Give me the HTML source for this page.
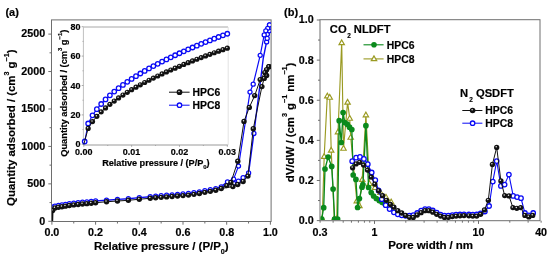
<!DOCTYPE html>
<html><head><meta charset="utf-8"><style>
html,body{margin:0;padding:0;background:#fff;width:550px;height:257px;overflow:hidden}
svg{display:block;filter:blur(0.3px)}
text{font-family:"Liberation Sans", Arial, sans-serif;font-weight:bold;fill:#000;stroke:#000;stroke-width:0.18px}
</style></head><body>
<svg width="550" height="257" viewBox="0 0 550 257">
<defs><clipPath id="clipA"><rect x="52" y="19.5" width="219" height="201.6"/></clipPath><clipPath id="clipB"><rect x="320.5" y="19.5" width="219.5" height="200.6"/></clipPath></defs>
<rect x="51.5" y="19.9" width="219.6" height="201.6" fill="none" stroke="#6e6e6e" stroke-width="1"/>
<line x1="48.3" y1="221.30" x2="51.5" y2="221.30" stroke="#6e6e6e" stroke-width="1"/>
<text x="45.20" y="224.60" font-size="10.3" text-anchor="end" textLength="5.98" lengthAdjust="spacingAndGlyphs">0</text>
<line x1="49.5" y1="202.58" x2="51.5" y2="202.58" stroke="#6e6e6e" stroke-width="1"/>
<line x1="48.3" y1="183.86" x2="51.5" y2="183.86" stroke="#6e6e6e" stroke-width="1"/>
<text x="45.20" y="187.16" font-size="10.3" text-anchor="end" textLength="17.95" lengthAdjust="spacingAndGlyphs">500</text>
<line x1="49.5" y1="165.14" x2="51.5" y2="165.14" stroke="#6e6e6e" stroke-width="1"/>
<line x1="48.3" y1="146.42" x2="51.5" y2="146.42" stroke="#6e6e6e" stroke-width="1"/>
<text x="45.20" y="149.72" font-size="10.3" text-anchor="end" textLength="23.94" lengthAdjust="spacingAndGlyphs">1000</text>
<line x1="49.5" y1="127.70" x2="51.5" y2="127.70" stroke="#6e6e6e" stroke-width="1"/>
<line x1="48.3" y1="108.98" x2="51.5" y2="108.98" stroke="#6e6e6e" stroke-width="1"/>
<text x="45.20" y="112.28" font-size="10.3" text-anchor="end" textLength="23.94" lengthAdjust="spacingAndGlyphs">1500</text>
<line x1="49.5" y1="90.26" x2="51.5" y2="90.26" stroke="#6e6e6e" stroke-width="1"/>
<line x1="48.3" y1="71.54" x2="51.5" y2="71.54" stroke="#6e6e6e" stroke-width="1"/>
<text x="45.20" y="74.84" font-size="10.3" text-anchor="end" textLength="23.94" lengthAdjust="spacingAndGlyphs">2000</text>
<line x1="49.5" y1="52.82" x2="51.5" y2="52.82" stroke="#6e6e6e" stroke-width="1"/>
<line x1="48.3" y1="34.10" x2="51.5" y2="34.10" stroke="#6e6e6e" stroke-width="1"/>
<text x="45.20" y="37.40" font-size="10.3" text-anchor="end" textLength="23.94" lengthAdjust="spacingAndGlyphs">2500</text>
<line x1="51.90" y1="221.5" x2="51.90" y2="224.7" stroke="#6e6e6e" stroke-width="1"/>
<text x="51.90" y="235.60" font-size="10.3" text-anchor="middle" textLength="14.96" lengthAdjust="spacingAndGlyphs">0.0</text>
<line x1="73.75" y1="221.5" x2="73.75" y2="223.5" stroke="#6e6e6e" stroke-width="1"/>
<line x1="95.60" y1="221.5" x2="95.60" y2="224.7" stroke="#6e6e6e" stroke-width="1"/>
<text x="95.60" y="235.60" font-size="10.3" text-anchor="middle" textLength="14.96" lengthAdjust="spacingAndGlyphs">0.2</text>
<line x1="117.45" y1="221.5" x2="117.45" y2="223.5" stroke="#6e6e6e" stroke-width="1"/>
<line x1="139.30" y1="221.5" x2="139.30" y2="224.7" stroke="#6e6e6e" stroke-width="1"/>
<text x="139.30" y="235.60" font-size="10.3" text-anchor="middle" textLength="14.96" lengthAdjust="spacingAndGlyphs">0.4</text>
<line x1="161.15" y1="221.5" x2="161.15" y2="223.5" stroke="#6e6e6e" stroke-width="1"/>
<line x1="183.00" y1="221.5" x2="183.00" y2="224.7" stroke="#6e6e6e" stroke-width="1"/>
<text x="183.00" y="235.60" font-size="10.3" text-anchor="middle" textLength="14.96" lengthAdjust="spacingAndGlyphs">0.6</text>
<line x1="204.85" y1="221.5" x2="204.85" y2="223.5" stroke="#6e6e6e" stroke-width="1"/>
<line x1="226.70" y1="221.5" x2="226.70" y2="224.7" stroke="#6e6e6e" stroke-width="1"/>
<text x="226.70" y="235.60" font-size="10.3" text-anchor="middle" textLength="14.96" lengthAdjust="spacingAndGlyphs">0.8</text>
<line x1="248.55" y1="221.5" x2="248.55" y2="223.5" stroke="#6e6e6e" stroke-width="1"/>
<line x1="270.40" y1="221.5" x2="270.40" y2="224.7" stroke="#6e6e6e" stroke-width="1"/>
<text x="270.40" y="235.60" font-size="10.3" text-anchor="middle" textLength="14.96" lengthAdjust="spacingAndGlyphs">1.0</text>
<text x="94" y="249.8" font-size="11.5" textLength="134.6" text-anchor="start">Relative pressure / (P/P<tspan font-size="7.2" dy="4.6">0</tspan><tspan dy="-4.6">)</tspan></text>
<text transform="translate(15.4,205.9) rotate(-90)" font-size="11.5" textLength="156.4" text-anchor="start">Quantity adsorbed / (cm<tspan font-size="7.2" dy="-6.6">3</tspan><tspan dy="6.6"> g</tspan><tspan font-size="7.2" dy="-6.6">&#8722;1</tspan><tspan dy="6.6">)</tspan></text>
<text x="5.40" y="15.80" font-size="11" text-anchor="start" >(a)</text>
<g clip-path="url(#clipA)">
<polyline points="52.20,214.00 52.60,207.20 54.96,206.26 58.45,205.48 61.95,204.88 65.45,204.35 69.38,203.73 73.75,203.10 78.12,202.63 82.49,202.14 86.86,201.86 91.23,201.44 95.60,200.89 106.52,200.18 117.45,199.40 128.37,198.71 139.30,197.62 150.22,196.68 155.69,196.22 161.15,195.75 166.61,195.29 172.07,194.83 177.54,194.39 183.00,193.98 188.46,193.48 193.92,192.77 199.39,191.96 204.85,190.73 210.31,189.75 215.77,188.59 221.24,186.91 233.60,183.30 238.40,181.10 243.10,177.70 248.60,172.90 253.90,133.40 263.30,58.00 266.60,41.90 267.20,38.40 267.40,34.30 269.20,30.80 269.50,25.00" fill="none" stroke="#0a0af5" stroke-width="1.4" stroke-linejoin="round"/>
<polyline points="269.50,25.00 267.70,28.30 265.80,30.80 264.20,34.90 260.20,55.30 253.20,84.20 250.00,92.10 238.50,166.10 233.60,179.10 227.50,181.80 221.00,186.60" fill="none" stroke="#0a0af5" stroke-width="1.2" stroke-linejoin="round"/>
<circle cx="52.60" cy="207.20" r="2.05" fill="#fff" stroke="#0a0af5" stroke-width="1.25"/>
<circle cx="54.96" cy="206.26" r="2.05" fill="#fff" stroke="#0a0af5" stroke-width="1.25"/>
<circle cx="58.45" cy="205.48" r="2.05" fill="#fff" stroke="#0a0af5" stroke-width="1.25"/>
<circle cx="61.95" cy="204.88" r="2.05" fill="#fff" stroke="#0a0af5" stroke-width="1.25"/>
<circle cx="65.45" cy="204.35" r="2.05" fill="#fff" stroke="#0a0af5" stroke-width="1.25"/>
<circle cx="69.38" cy="203.73" r="2.05" fill="#fff" stroke="#0a0af5" stroke-width="1.25"/>
<circle cx="73.75" cy="203.10" r="2.05" fill="#fff" stroke="#0a0af5" stroke-width="1.25"/>
<circle cx="78.12" cy="202.63" r="2.05" fill="#fff" stroke="#0a0af5" stroke-width="1.25"/>
<circle cx="82.49" cy="202.14" r="2.05" fill="#fff" stroke="#0a0af5" stroke-width="1.25"/>
<circle cx="86.86" cy="201.86" r="2.05" fill="#fff" stroke="#0a0af5" stroke-width="1.25"/>
<circle cx="91.23" cy="201.44" r="2.05" fill="#fff" stroke="#0a0af5" stroke-width="1.25"/>
<circle cx="95.60" cy="200.89" r="2.05" fill="#fff" stroke="#0a0af5" stroke-width="1.25"/>
<circle cx="106.52" cy="200.18" r="2.05" fill="#fff" stroke="#0a0af5" stroke-width="1.25"/>
<circle cx="117.45" cy="199.40" r="2.05" fill="#fff" stroke="#0a0af5" stroke-width="1.25"/>
<circle cx="128.37" cy="198.71" r="2.05" fill="#fff" stroke="#0a0af5" stroke-width="1.25"/>
<circle cx="139.30" cy="197.62" r="2.05" fill="#fff" stroke="#0a0af5" stroke-width="1.25"/>
<circle cx="150.22" cy="196.68" r="2.05" fill="#fff" stroke="#0a0af5" stroke-width="1.25"/>
<circle cx="155.69" cy="196.22" r="2.05" fill="#fff" stroke="#0a0af5" stroke-width="1.25"/>
<circle cx="161.15" cy="195.75" r="2.05" fill="#fff" stroke="#0a0af5" stroke-width="1.25"/>
<circle cx="166.61" cy="195.29" r="2.05" fill="#fff" stroke="#0a0af5" stroke-width="1.25"/>
<circle cx="172.07" cy="194.83" r="2.05" fill="#fff" stroke="#0a0af5" stroke-width="1.25"/>
<circle cx="177.54" cy="194.39" r="2.05" fill="#fff" stroke="#0a0af5" stroke-width="1.25"/>
<circle cx="183.00" cy="193.98" r="2.05" fill="#fff" stroke="#0a0af5" stroke-width="1.25"/>
<circle cx="188.46" cy="193.48" r="2.05" fill="#fff" stroke="#0a0af5" stroke-width="1.25"/>
<circle cx="193.92" cy="192.77" r="2.05" fill="#fff" stroke="#0a0af5" stroke-width="1.25"/>
<circle cx="199.39" cy="191.96" r="2.05" fill="#fff" stroke="#0a0af5" stroke-width="1.25"/>
<circle cx="204.85" cy="190.73" r="2.05" fill="#fff" stroke="#0a0af5" stroke-width="1.25"/>
<circle cx="210.31" cy="189.75" r="2.05" fill="#fff" stroke="#0a0af5" stroke-width="1.25"/>
<circle cx="215.77" cy="188.59" r="2.05" fill="#fff" stroke="#0a0af5" stroke-width="1.25"/>
<circle cx="221.24" cy="186.91" r="2.05" fill="#fff" stroke="#0a0af5" stroke-width="1.25"/>
<circle cx="233.60" cy="183.30" r="2.05" fill="#fff" stroke="#0a0af5" stroke-width="1.25"/>
<circle cx="238.40" cy="181.10" r="2.05" fill="#fff" stroke="#0a0af5" stroke-width="1.25"/>
<circle cx="243.10" cy="177.70" r="2.05" fill="#fff" stroke="#0a0af5" stroke-width="1.25"/>
<circle cx="248.60" cy="172.90" r="2.05" fill="#fff" stroke="#0a0af5" stroke-width="1.25"/>
<circle cx="253.90" cy="133.40" r="2.05" fill="#fff" stroke="#0a0af5" stroke-width="1.25"/>
<circle cx="266.60" cy="41.90" r="2.05" fill="#fff" stroke="#0a0af5" stroke-width="1.25"/>
<circle cx="267.20" cy="38.40" r="2.05" fill="#fff" stroke="#0a0af5" stroke-width="1.25"/>
<circle cx="267.40" cy="34.30" r="2.05" fill="#fff" stroke="#0a0af5" stroke-width="1.25"/>
<circle cx="269.20" cy="30.80" r="2.05" fill="#fff" stroke="#0a0af5" stroke-width="1.25"/>
<circle cx="269.50" cy="25.00" r="2.05" fill="#fff" stroke="#0a0af5" stroke-width="1.25"/>
<circle cx="269.50" cy="25.00" r="2.05" fill="#fff" stroke="#0a0af5" stroke-width="1.25"/>
<circle cx="267.70" cy="28.30" r="2.05" fill="#fff" stroke="#0a0af5" stroke-width="1.25"/>
<circle cx="265.80" cy="30.80" r="2.05" fill="#fff" stroke="#0a0af5" stroke-width="1.25"/>
<circle cx="264.20" cy="34.90" r="2.05" fill="#fff" stroke="#0a0af5" stroke-width="1.25"/>
<circle cx="260.20" cy="55.30" r="2.05" fill="#fff" stroke="#0a0af5" stroke-width="1.25"/>
<circle cx="253.20" cy="84.20" r="2.05" fill="#fff" stroke="#0a0af5" stroke-width="1.25"/>
<circle cx="250.00" cy="92.10" r="2.05" fill="#fff" stroke="#0a0af5" stroke-width="1.25"/>
<circle cx="238.50" cy="166.10" r="2.05" fill="#fff" stroke="#0a0af5" stroke-width="1.25"/>
<circle cx="233.60" cy="179.10" r="2.05" fill="#fff" stroke="#0a0af5" stroke-width="1.25"/>
<circle cx="227.50" cy="181.80" r="2.05" fill="#fff" stroke="#0a0af5" stroke-width="1.25"/>
<polyline points="51.90,221.30 52.20,214.00 52.60,210.50 54.96,208.06 58.45,207.28 61.95,206.68 65.45,206.15 69.38,205.53 73.75,204.90 78.12,204.44 82.49,203.94 86.86,203.66 91.23,203.24 95.60,202.68 106.52,201.78 117.45,201.00 128.37,200.31 139.30,199.22 150.22,198.28 155.69,197.82 161.15,197.35 166.61,196.89 172.07,196.43 177.54,195.99 183.00,195.58 188.46,195.08 193.92,194.37 199.39,193.56 204.85,192.33 210.31,191.35 215.77,190.19 221.24,188.51 232.90,186.60 237.70,184.50 243.10,181.50 247.90,176.10 253.30,128.80 261.90,86.60 264.20,78.40 266.60,75.50 268.90,66.70" fill="none" stroke="#111" stroke-width="1.0" stroke-linejoin="round"/>
<polyline points="268.90,66.70 266.60,69.70 264.80,72.60 260.20,79.60 254.70,95.60 249.30,107.40 244.00,121.40 237.80,161.30 230.90,182.50 226.80,185.60 221.00,188.30" fill="none" stroke="#111" stroke-width="1.0" stroke-linejoin="round"/>
<polyline points="52.20,221.30 52.40,214.00 52.80,209.50" fill="none" stroke="#111" stroke-width="2.0" stroke-linejoin="round"/>
<circle cx="52.60" cy="210.50" r="2.7" fill="#111"/>
<circle cx="52.10" cy="209.80" r="0.75" fill="#e8e8e8"/>
<circle cx="54.96" cy="208.06" r="2.7" fill="#111"/>
<circle cx="54.46" cy="207.36" r="0.75" fill="#e8e8e8"/>
<circle cx="58.45" cy="207.28" r="2.7" fill="#111"/>
<circle cx="57.95" cy="206.58" r="0.75" fill="#e8e8e8"/>
<circle cx="61.95" cy="206.68" r="2.7" fill="#111"/>
<circle cx="61.45" cy="205.98" r="0.75" fill="#e8e8e8"/>
<circle cx="65.45" cy="206.15" r="2.7" fill="#111"/>
<circle cx="64.95" cy="205.45" r="0.75" fill="#e8e8e8"/>
<circle cx="69.38" cy="205.53" r="2.7" fill="#111"/>
<circle cx="68.88" cy="204.83" r="0.75" fill="#e8e8e8"/>
<circle cx="73.75" cy="204.90" r="2.7" fill="#111"/>
<circle cx="73.25" cy="204.20" r="0.75" fill="#e8e8e8"/>
<circle cx="78.12" cy="204.44" r="2.7" fill="#111"/>
<circle cx="77.62" cy="203.74" r="0.75" fill="#e8e8e8"/>
<circle cx="82.49" cy="203.94" r="2.7" fill="#111"/>
<circle cx="81.99" cy="203.24" r="0.75" fill="#e8e8e8"/>
<circle cx="86.86" cy="203.66" r="2.7" fill="#111"/>
<circle cx="86.36" cy="202.96" r="0.75" fill="#e8e8e8"/>
<circle cx="91.23" cy="203.24" r="2.7" fill="#111"/>
<circle cx="90.73" cy="202.54" r="0.75" fill="#e8e8e8"/>
<circle cx="95.60" cy="202.68" r="2.7" fill="#111"/>
<circle cx="95.10" cy="201.98" r="0.75" fill="#e8e8e8"/>
<circle cx="106.52" cy="201.78" r="2.7" fill="#111"/>
<circle cx="106.02" cy="201.08" r="0.75" fill="#e8e8e8"/>
<circle cx="117.45" cy="201.00" r="2.7" fill="#111"/>
<circle cx="116.95" cy="200.30" r="0.75" fill="#e8e8e8"/>
<circle cx="128.37" cy="200.31" r="2.7" fill="#111"/>
<circle cx="127.87" cy="199.61" r="0.75" fill="#e8e8e8"/>
<circle cx="139.30" cy="199.22" r="2.7" fill="#111"/>
<circle cx="138.80" cy="198.52" r="0.75" fill="#e8e8e8"/>
<circle cx="150.22" cy="198.28" r="2.7" fill="#111"/>
<circle cx="149.72" cy="197.58" r="0.75" fill="#e8e8e8"/>
<circle cx="155.69" cy="197.82" r="2.7" fill="#111"/>
<circle cx="155.19" cy="197.12" r="0.75" fill="#e8e8e8"/>
<circle cx="161.15" cy="197.35" r="2.7" fill="#111"/>
<circle cx="160.65" cy="196.65" r="0.75" fill="#e8e8e8"/>
<circle cx="166.61" cy="196.89" r="2.7" fill="#111"/>
<circle cx="166.11" cy="196.19" r="0.75" fill="#e8e8e8"/>
<circle cx="172.07" cy="196.43" r="2.7" fill="#111"/>
<circle cx="171.57" cy="195.73" r="0.75" fill="#e8e8e8"/>
<circle cx="177.54" cy="195.99" r="2.7" fill="#111"/>
<circle cx="177.04" cy="195.29" r="0.75" fill="#e8e8e8"/>
<circle cx="183.00" cy="195.58" r="2.7" fill="#111"/>
<circle cx="182.50" cy="194.88" r="0.75" fill="#e8e8e8"/>
<circle cx="188.46" cy="195.08" r="2.7" fill="#111"/>
<circle cx="187.96" cy="194.38" r="0.75" fill="#e8e8e8"/>
<circle cx="193.92" cy="194.37" r="2.7" fill="#111"/>
<circle cx="193.42" cy="193.67" r="0.75" fill="#e8e8e8"/>
<circle cx="199.39" cy="193.56" r="2.7" fill="#111"/>
<circle cx="198.89" cy="192.86" r="0.75" fill="#e8e8e8"/>
<circle cx="204.85" cy="192.33" r="2.7" fill="#111"/>
<circle cx="204.35" cy="191.63" r="0.75" fill="#e8e8e8"/>
<circle cx="210.31" cy="191.35" r="2.7" fill="#111"/>
<circle cx="209.81" cy="190.65" r="0.75" fill="#e8e8e8"/>
<circle cx="215.77" cy="190.19" r="2.7" fill="#111"/>
<circle cx="215.27" cy="189.49" r="0.75" fill="#e8e8e8"/>
<circle cx="221.24" cy="188.51" r="2.7" fill="#111"/>
<circle cx="220.74" cy="187.81" r="0.75" fill="#e8e8e8"/>
<circle cx="232.90" cy="186.60" r="2.7" fill="#111"/>
<circle cx="232.40" cy="185.90" r="0.75" fill="#e8e8e8"/>
<circle cx="237.70" cy="184.50" r="2.7" fill="#111"/>
<circle cx="237.20" cy="183.80" r="0.75" fill="#e8e8e8"/>
<circle cx="243.10" cy="181.50" r="2.7" fill="#111"/>
<circle cx="242.60" cy="180.80" r="0.75" fill="#e8e8e8"/>
<circle cx="247.90" cy="176.10" r="2.7" fill="#111"/>
<circle cx="247.40" cy="175.40" r="0.75" fill="#e8e8e8"/>
<circle cx="253.30" cy="128.80" r="2.7" fill="#111"/>
<circle cx="252.80" cy="128.10" r="0.75" fill="#e8e8e8"/>
<circle cx="261.90" cy="86.60" r="2.7" fill="#111"/>
<circle cx="261.40" cy="85.90" r="0.75" fill="#e8e8e8"/>
<circle cx="264.20" cy="78.40" r="2.7" fill="#111"/>
<circle cx="263.70" cy="77.70" r="0.75" fill="#e8e8e8"/>
<circle cx="266.60" cy="75.50" r="2.7" fill="#111"/>
<circle cx="266.10" cy="74.80" r="0.75" fill="#e8e8e8"/>
<circle cx="268.90" cy="66.70" r="2.7" fill="#111"/>
<circle cx="268.40" cy="66.00" r="0.75" fill="#e8e8e8"/>
<circle cx="268.90" cy="66.70" r="2.7" fill="#111"/>
<circle cx="268.40" cy="66.00" r="0.75" fill="#e8e8e8"/>
<circle cx="266.60" cy="69.70" r="2.7" fill="#111"/>
<circle cx="266.10" cy="69.00" r="0.75" fill="#e8e8e8"/>
<circle cx="264.80" cy="72.60" r="2.7" fill="#111"/>
<circle cx="264.30" cy="71.90" r="0.75" fill="#e8e8e8"/>
<circle cx="260.20" cy="79.60" r="2.7" fill="#111"/>
<circle cx="259.70" cy="78.90" r="0.75" fill="#e8e8e8"/>
<circle cx="254.70" cy="95.60" r="2.7" fill="#111"/>
<circle cx="254.20" cy="94.90" r="0.75" fill="#e8e8e8"/>
<circle cx="249.30" cy="107.40" r="2.7" fill="#111"/>
<circle cx="248.80" cy="106.70" r="0.75" fill="#e8e8e8"/>
<circle cx="244.00" cy="121.40" r="2.7" fill="#111"/>
<circle cx="243.50" cy="120.70" r="0.75" fill="#e8e8e8"/>
<circle cx="237.80" cy="161.30" r="2.7" fill="#111"/>
<circle cx="237.30" cy="160.60" r="0.75" fill="#e8e8e8"/>
<circle cx="230.90" cy="182.50" r="2.7" fill="#111"/>
<circle cx="230.40" cy="181.80" r="0.75" fill="#e8e8e8"/>
<circle cx="226.80" cy="185.60" r="2.7" fill="#111"/>
<circle cx="226.30" cy="184.90" r="0.75" fill="#e8e8e8"/>
</g>
<rect x="83.5" y="26.8" width="144.3" height="118.2" fill="#fff" stroke="none"/>
<line x1="83.5" y1="27" x2="228" y2="27" stroke="#a8a8a8" stroke-width="1"/>
<line x1="83.4" y1="26.8" x2="83.4" y2="145" stroke="#c0c0c0" stroke-width="1"/>
<line x1="83.4" y1="145" x2="228" y2="145" stroke="#9a9a9a" stroke-width="1"/>
<line x1="228.2" y1="27" x2="228.2" y2="145" stroke="#e2e2e2" stroke-width="1"/>
<line x1="81.7" y1="144.30" x2="83.5" y2="144.30" stroke="#a0a0a0" stroke-width="0.9"/>
<text x="80.60" y="147.30" font-size="8.6" text-anchor="end" textLength="5.00" lengthAdjust="spacingAndGlyphs">0</text>
<line x1="82.5" y1="129.60" x2="83.5" y2="129.60" stroke="#a0a0a0" stroke-width="0.9"/>
<line x1="81.7" y1="114.90" x2="83.5" y2="114.90" stroke="#a0a0a0" stroke-width="0.9"/>
<text x="80.60" y="117.90" font-size="8.6" text-anchor="end" textLength="9.99" lengthAdjust="spacingAndGlyphs">20</text>
<line x1="82.5" y1="100.20" x2="83.5" y2="100.20" stroke="#a0a0a0" stroke-width="0.9"/>
<line x1="81.7" y1="85.50" x2="83.5" y2="85.50" stroke="#a0a0a0" stroke-width="0.9"/>
<text x="80.60" y="88.50" font-size="8.6" text-anchor="end" textLength="9.99" lengthAdjust="spacingAndGlyphs">40</text>
<line x1="82.5" y1="70.80" x2="83.5" y2="70.80" stroke="#a0a0a0" stroke-width="0.9"/>
<line x1="81.7" y1="56.10" x2="83.5" y2="56.10" stroke="#a0a0a0" stroke-width="0.9"/>
<text x="80.60" y="59.10" font-size="8.6" text-anchor="end" textLength="9.99" lengthAdjust="spacingAndGlyphs">60</text>
<line x1="82.5" y1="41.40" x2="83.5" y2="41.40" stroke="#a0a0a0" stroke-width="0.9"/>
<line x1="81.7" y1="26.70" x2="83.5" y2="26.70" stroke="#a0a0a0" stroke-width="0.9"/>
<text x="80.60" y="29.70" font-size="8.6" text-anchor="end" textLength="9.99" lengthAdjust="spacingAndGlyphs">80</text>
<line x1="83.80" y1="145" x2="83.80" y2="146.8" stroke="#a0a0a0" stroke-width="0.9"/>
<text x="83.80" y="155.10" font-size="8.6" text-anchor="middle" textLength="17.49" lengthAdjust="spacingAndGlyphs">0.00</text>
<line x1="107.72" y1="145" x2="107.72" y2="146.0" stroke="#a0a0a0" stroke-width="0.9"/>
<line x1="131.63" y1="145" x2="131.63" y2="146.8" stroke="#a0a0a0" stroke-width="0.9"/>
<text x="131.63" y="155.10" font-size="8.6" text-anchor="middle" textLength="17.49" lengthAdjust="spacingAndGlyphs">0.01</text>
<line x1="155.55" y1="145" x2="155.55" y2="146.0" stroke="#a0a0a0" stroke-width="0.9"/>
<line x1="179.47" y1="145" x2="179.47" y2="146.8" stroke="#a0a0a0" stroke-width="0.9"/>
<text x="179.47" y="155.10" font-size="8.6" text-anchor="middle" textLength="17.49" lengthAdjust="spacingAndGlyphs">0.02</text>
<line x1="203.38" y1="145" x2="203.38" y2="146.0" stroke="#a0a0a0" stroke-width="0.9"/>
<line x1="227.30" y1="145" x2="227.30" y2="146.8" stroke="#a0a0a0" stroke-width="0.9"/>
<text x="227.30" y="155.10" font-size="8.6" text-anchor="middle" textLength="17.49" lengthAdjust="spacingAndGlyphs">0.03</text>
<text x="102.2" y="165.6" font-size="9.2" textLength="107.4" text-anchor="start">Relative pressure / (P/P<tspan font-size="6" dy="3.4">0</tspan><tspan dy="-3.4">)</tspan></text>
<text transform="translate(66.9,156.8) rotate(-90)" font-size="9.4" textLength="127.2" text-anchor="start">Quantity adsorbed / (cm<tspan font-size="6" dy="-5.2">3</tspan><tspan dy="5.2"> g</tspan><tspan font-size="6" dy="-5.2">&#8722;1</tspan><tspan dy="5.2">)</tspan></text>
<polyline points="83.80,144.30 84.70,141.50 88.15,123.52 92.50,115.35 96.85,109.16 101.19,103.98 105.54,99.45 109.89,95.36 114.24,91.62 118.59,88.15 122.94,84.90 127.28,81.83 131.63,78.92 135.98,76.14 140.33,73.48 144.68,70.93 149.03,68.47 153.38,66.09 157.72,63.79 162.07,61.56 166.42,59.40 170.77,57.29 175.12,55.24 179.47,53.23 183.82,51.28 188.16,49.36 192.51,47.49 196.86,45.66 201.21,43.87 205.56,42.11 209.91,40.38 214.25,38.68 218.60,37.01 222.95,35.37 227.30,33.76" fill="none" stroke="#0a0af5" stroke-width="1.1" stroke-linejoin="round"/>
<circle cx="84.70" cy="141.50" r="2.25" fill="#fff" stroke="#0a0af5" stroke-width="1.3"/>
<circle cx="88.15" cy="123.52" r="2.25" fill="#fff" stroke="#0a0af5" stroke-width="1.3"/>
<circle cx="92.50" cy="115.35" r="2.25" fill="#fff" stroke="#0a0af5" stroke-width="1.3"/>
<circle cx="96.85" cy="109.16" r="2.25" fill="#fff" stroke="#0a0af5" stroke-width="1.3"/>
<circle cx="101.19" cy="103.98" r="2.25" fill="#fff" stroke="#0a0af5" stroke-width="1.3"/>
<circle cx="105.54" cy="99.45" r="2.25" fill="#fff" stroke="#0a0af5" stroke-width="1.3"/>
<circle cx="109.89" cy="95.36" r="2.25" fill="#fff" stroke="#0a0af5" stroke-width="1.3"/>
<circle cx="114.24" cy="91.62" r="2.25" fill="#fff" stroke="#0a0af5" stroke-width="1.3"/>
<circle cx="118.59" cy="88.15" r="2.25" fill="#fff" stroke="#0a0af5" stroke-width="1.3"/>
<circle cx="122.94" cy="84.90" r="2.25" fill="#fff" stroke="#0a0af5" stroke-width="1.3"/>
<circle cx="127.28" cy="81.83" r="2.25" fill="#fff" stroke="#0a0af5" stroke-width="1.3"/>
<circle cx="131.63" cy="78.92" r="2.25" fill="#fff" stroke="#0a0af5" stroke-width="1.3"/>
<circle cx="135.98" cy="76.14" r="2.25" fill="#fff" stroke="#0a0af5" stroke-width="1.3"/>
<circle cx="140.33" cy="73.48" r="2.25" fill="#fff" stroke="#0a0af5" stroke-width="1.3"/>
<circle cx="144.68" cy="70.93" r="2.25" fill="#fff" stroke="#0a0af5" stroke-width="1.3"/>
<circle cx="149.03" cy="68.47" r="2.25" fill="#fff" stroke="#0a0af5" stroke-width="1.3"/>
<circle cx="153.38" cy="66.09" r="2.25" fill="#fff" stroke="#0a0af5" stroke-width="1.3"/>
<circle cx="157.72" cy="63.79" r="2.25" fill="#fff" stroke="#0a0af5" stroke-width="1.3"/>
<circle cx="162.07" cy="61.56" r="2.25" fill="#fff" stroke="#0a0af5" stroke-width="1.3"/>
<circle cx="166.42" cy="59.40" r="2.25" fill="#fff" stroke="#0a0af5" stroke-width="1.3"/>
<circle cx="170.77" cy="57.29" r="2.25" fill="#fff" stroke="#0a0af5" stroke-width="1.3"/>
<circle cx="175.12" cy="55.24" r="2.25" fill="#fff" stroke="#0a0af5" stroke-width="1.3"/>
<circle cx="179.47" cy="53.23" r="2.25" fill="#fff" stroke="#0a0af5" stroke-width="1.3"/>
<circle cx="183.82" cy="51.28" r="2.25" fill="#fff" stroke="#0a0af5" stroke-width="1.3"/>
<circle cx="188.16" cy="49.36" r="2.25" fill="#fff" stroke="#0a0af5" stroke-width="1.3"/>
<circle cx="192.51" cy="47.49" r="2.25" fill="#fff" stroke="#0a0af5" stroke-width="1.3"/>
<circle cx="196.86" cy="45.66" r="2.25" fill="#fff" stroke="#0a0af5" stroke-width="1.3"/>
<circle cx="201.21" cy="43.87" r="2.25" fill="#fff" stroke="#0a0af5" stroke-width="1.3"/>
<circle cx="205.56" cy="42.11" r="2.25" fill="#fff" stroke="#0a0af5" stroke-width="1.3"/>
<circle cx="209.91" cy="40.38" r="2.25" fill="#fff" stroke="#0a0af5" stroke-width="1.3"/>
<circle cx="214.25" cy="38.68" r="2.25" fill="#fff" stroke="#0a0af5" stroke-width="1.3"/>
<circle cx="218.60" cy="37.01" r="2.25" fill="#fff" stroke="#0a0af5" stroke-width="1.3"/>
<circle cx="222.95" cy="35.37" r="2.25" fill="#fff" stroke="#0a0af5" stroke-width="1.3"/>
<circle cx="227.30" cy="33.76" r="2.25" fill="#fff" stroke="#0a0af5" stroke-width="1.3"/>
<polyline points="83.80,144.30 88.15,128.42 92.50,121.61 96.85,116.34 101.19,111.87 105.54,107.92 109.89,104.34 114.24,101.04 118.59,97.96 122.94,95.06 127.28,92.32 131.63,89.70 135.98,87.20 140.33,84.80 144.68,82.48 149.03,80.25 153.38,78.08 157.72,75.98 162.07,73.94 166.42,71.95 170.77,70.02 175.12,68.13 179.47,66.28 183.82,64.47 188.16,62.70 192.51,60.97 196.86,59.27 201.21,57.60 205.56,55.96 209.91,54.35 214.25,52.77 218.60,51.21 222.95,49.67 227.30,48.16" fill="none" stroke="#111" stroke-width="1.0" stroke-linejoin="round"/>
<circle cx="88.15" cy="128.42" r="2.6" fill="#111"/>
<circle cx="87.65" cy="127.72" r="0.75" fill="#e8e8e8"/>
<circle cx="92.50" cy="121.61" r="2.6" fill="#111"/>
<circle cx="92.00" cy="120.91" r="0.75" fill="#e8e8e8"/>
<circle cx="96.85" cy="116.34" r="2.6" fill="#111"/>
<circle cx="96.35" cy="115.64" r="0.75" fill="#e8e8e8"/>
<circle cx="101.19" cy="111.87" r="2.6" fill="#111"/>
<circle cx="100.69" cy="111.17" r="0.75" fill="#e8e8e8"/>
<circle cx="105.54" cy="107.92" r="2.6" fill="#111"/>
<circle cx="105.04" cy="107.22" r="0.75" fill="#e8e8e8"/>
<circle cx="109.89" cy="104.34" r="2.6" fill="#111"/>
<circle cx="109.39" cy="103.64" r="0.75" fill="#e8e8e8"/>
<circle cx="114.24" cy="101.04" r="2.6" fill="#111"/>
<circle cx="113.74" cy="100.34" r="0.75" fill="#e8e8e8"/>
<circle cx="118.59" cy="97.96" r="2.6" fill="#111"/>
<circle cx="118.09" cy="97.26" r="0.75" fill="#e8e8e8"/>
<circle cx="122.94" cy="95.06" r="2.6" fill="#111"/>
<circle cx="122.44" cy="94.36" r="0.75" fill="#e8e8e8"/>
<circle cx="127.28" cy="92.32" r="2.6" fill="#111"/>
<circle cx="126.78" cy="91.62" r="0.75" fill="#e8e8e8"/>
<circle cx="131.63" cy="89.70" r="2.6" fill="#111"/>
<circle cx="131.13" cy="89.00" r="0.75" fill="#e8e8e8"/>
<circle cx="135.98" cy="87.20" r="2.6" fill="#111"/>
<circle cx="135.48" cy="86.50" r="0.75" fill="#e8e8e8"/>
<circle cx="140.33" cy="84.80" r="2.6" fill="#111"/>
<circle cx="139.83" cy="84.10" r="0.75" fill="#e8e8e8"/>
<circle cx="144.68" cy="82.48" r="2.6" fill="#111"/>
<circle cx="144.18" cy="81.78" r="0.75" fill="#e8e8e8"/>
<circle cx="149.03" cy="80.25" r="2.6" fill="#111"/>
<circle cx="148.53" cy="79.55" r="0.75" fill="#e8e8e8"/>
<circle cx="153.38" cy="78.08" r="2.6" fill="#111"/>
<circle cx="152.88" cy="77.38" r="0.75" fill="#e8e8e8"/>
<circle cx="157.72" cy="75.98" r="2.6" fill="#111"/>
<circle cx="157.22" cy="75.28" r="0.75" fill="#e8e8e8"/>
<circle cx="162.07" cy="73.94" r="2.6" fill="#111"/>
<circle cx="161.57" cy="73.24" r="0.75" fill="#e8e8e8"/>
<circle cx="166.42" cy="71.95" r="2.6" fill="#111"/>
<circle cx="165.92" cy="71.25" r="0.75" fill="#e8e8e8"/>
<circle cx="170.77" cy="70.02" r="2.6" fill="#111"/>
<circle cx="170.27" cy="69.32" r="0.75" fill="#e8e8e8"/>
<circle cx="175.12" cy="68.13" r="2.6" fill="#111"/>
<circle cx="174.62" cy="67.43" r="0.75" fill="#e8e8e8"/>
<circle cx="179.47" cy="66.28" r="2.6" fill="#111"/>
<circle cx="178.97" cy="65.58" r="0.75" fill="#e8e8e8"/>
<circle cx="183.82" cy="64.47" r="2.6" fill="#111"/>
<circle cx="183.32" cy="63.77" r="0.75" fill="#e8e8e8"/>
<circle cx="188.16" cy="62.70" r="2.6" fill="#111"/>
<circle cx="187.66" cy="62.00" r="0.75" fill="#e8e8e8"/>
<circle cx="192.51" cy="60.97" r="2.6" fill="#111"/>
<circle cx="192.01" cy="60.27" r="0.75" fill="#e8e8e8"/>
<circle cx="196.86" cy="59.27" r="2.6" fill="#111"/>
<circle cx="196.36" cy="58.57" r="0.75" fill="#e8e8e8"/>
<circle cx="201.21" cy="57.60" r="2.6" fill="#111"/>
<circle cx="200.71" cy="56.90" r="0.75" fill="#e8e8e8"/>
<circle cx="205.56" cy="55.96" r="2.6" fill="#111"/>
<circle cx="205.06" cy="55.26" r="0.75" fill="#e8e8e8"/>
<circle cx="209.91" cy="54.35" r="2.6" fill="#111"/>
<circle cx="209.41" cy="53.65" r="0.75" fill="#e8e8e8"/>
<circle cx="214.25" cy="52.77" r="2.6" fill="#111"/>
<circle cx="213.75" cy="52.07" r="0.75" fill="#e8e8e8"/>
<circle cx="218.60" cy="51.21" r="2.6" fill="#111"/>
<circle cx="218.10" cy="50.51" r="0.75" fill="#e8e8e8"/>
<circle cx="222.95" cy="49.67" r="2.6" fill="#111"/>
<circle cx="222.45" cy="48.97" r="0.75" fill="#e8e8e8"/>
<circle cx="227.30" cy="48.16" r="2.6" fill="#111"/>
<circle cx="226.80" cy="47.46" r="0.75" fill="#e8e8e8"/>
<line x1="169" y1="92.2" x2="189.6" y2="92.2" stroke="#111" stroke-width="1"/>
<circle cx="179.50" cy="92.20" r="2.85" fill="#111"/>
<circle cx="179.00" cy="91.50" r="0.75" fill="#e8e8e8"/>
<line x1="169" y1="105.2" x2="189.6" y2="105.2" stroke="#0a0af5" stroke-width="1"/>
<circle cx="179.50" cy="105.20" r="2.2" fill="#fff" stroke="#0a0af5" stroke-width="1.3"/>
<text x="192.50" y="96.00" font-size="10.4" text-anchor="start" >HPC6</text>
<text x="192.50" y="109.00" font-size="10.4" text-anchor="start" >HPC8</text>
<rect x="320" y="19.7" width="220" height="201" fill="none" stroke="#6e6e6e" stroke-width="1"/>
<line x1="316.8" y1="220.60" x2="320" y2="220.60" stroke="#6e6e6e" stroke-width="1"/>
<text x="313.80" y="224.00" font-size="10.3" text-anchor="end" textLength="14.96" lengthAdjust="spacingAndGlyphs">0.0</text>
<line x1="318" y1="200.54" x2="320" y2="200.54" stroke="#6e6e6e" stroke-width="1"/>
<line x1="316.8" y1="180.48" x2="320" y2="180.48" stroke="#6e6e6e" stroke-width="1"/>
<text x="313.80" y="183.88" font-size="10.3" text-anchor="end" textLength="14.96" lengthAdjust="spacingAndGlyphs">0.2</text>
<line x1="318" y1="160.42" x2="320" y2="160.42" stroke="#6e6e6e" stroke-width="1"/>
<line x1="316.8" y1="140.36" x2="320" y2="140.36" stroke="#6e6e6e" stroke-width="1"/>
<text x="313.80" y="143.76" font-size="10.3" text-anchor="end" textLength="14.96" lengthAdjust="spacingAndGlyphs">0.4</text>
<line x1="318" y1="120.30" x2="320" y2="120.30" stroke="#6e6e6e" stroke-width="1"/>
<line x1="316.8" y1="100.24" x2="320" y2="100.24" stroke="#6e6e6e" stroke-width="1"/>
<text x="313.80" y="103.64" font-size="10.3" text-anchor="end" textLength="14.96" lengthAdjust="spacingAndGlyphs">0.6</text>
<line x1="318" y1="80.18" x2="320" y2="80.18" stroke="#6e6e6e" stroke-width="1"/>
<line x1="316.8" y1="60.12" x2="320" y2="60.12" stroke="#6e6e6e" stroke-width="1"/>
<text x="313.80" y="63.52" font-size="10.3" text-anchor="end" textLength="14.96" lengthAdjust="spacingAndGlyphs">0.8</text>
<line x1="318" y1="40.06" x2="320" y2="40.06" stroke="#6e6e6e" stroke-width="1"/>
<line x1="316.8" y1="20.00" x2="320" y2="20.00" stroke="#6e6e6e" stroke-width="1"/>
<text x="313.80" y="23.40" font-size="10.3" text-anchor="end" textLength="14.96" lengthAdjust="spacingAndGlyphs">1.0</text>
<line x1="320.12" y1="220.7" x2="320.12" y2="222.7" stroke="#6e6e6e" stroke-width="1"/>
<line x1="333.11" y1="220.7" x2="333.11" y2="222.7" stroke="#6e6e6e" stroke-width="1"/>
<line x1="343.19" y1="220.7" x2="343.19" y2="222.7" stroke="#6e6e6e" stroke-width="1"/>
<line x1="351.43" y1="220.7" x2="351.43" y2="222.7" stroke="#6e6e6e" stroke-width="1"/>
<line x1="358.39" y1="220.7" x2="358.39" y2="222.7" stroke="#6e6e6e" stroke-width="1"/>
<line x1="364.42" y1="220.7" x2="364.42" y2="222.7" stroke="#6e6e6e" stroke-width="1"/>
<line x1="369.74" y1="220.7" x2="369.74" y2="222.7" stroke="#6e6e6e" stroke-width="1"/>
<line x1="374.50" y1="220.7" x2="374.50" y2="223.89999999999998" stroke="#6e6e6e" stroke-width="1"/>
<line x1="405.81" y1="220.7" x2="405.81" y2="222.7" stroke="#6e6e6e" stroke-width="1"/>
<line x1="424.12" y1="220.7" x2="424.12" y2="222.7" stroke="#6e6e6e" stroke-width="1"/>
<line x1="437.11" y1="220.7" x2="437.11" y2="222.7" stroke="#6e6e6e" stroke-width="1"/>
<line x1="447.19" y1="220.7" x2="447.19" y2="222.7" stroke="#6e6e6e" stroke-width="1"/>
<line x1="455.43" y1="220.7" x2="455.43" y2="222.7" stroke="#6e6e6e" stroke-width="1"/>
<line x1="462.39" y1="220.7" x2="462.39" y2="222.7" stroke="#6e6e6e" stroke-width="1"/>
<line x1="468.42" y1="220.7" x2="468.42" y2="222.7" stroke="#6e6e6e" stroke-width="1"/>
<line x1="473.74" y1="220.7" x2="473.74" y2="222.7" stroke="#6e6e6e" stroke-width="1"/>
<line x1="478.50" y1="220.7" x2="478.50" y2="223.89999999999998" stroke="#6e6e6e" stroke-width="1"/>
<line x1="509.81" y1="220.7" x2="509.81" y2="222.7" stroke="#6e6e6e" stroke-width="1"/>
<line x1="528.12" y1="220.7" x2="528.12" y2="222.7" stroke="#6e6e6e" stroke-width="1"/>
<line x1="541.11" y1="220.7" x2="541.11" y2="222.7" stroke="#6e6e6e" stroke-width="1"/>
<text x="320.12" y="235.60" font-size="10.3" text-anchor="middle" textLength="14.96" lengthAdjust="spacingAndGlyphs">0.3</text>
<text x="374.50" y="235.60" font-size="10.3" text-anchor="middle" textLength="5.98" lengthAdjust="spacingAndGlyphs">1</text>
<text x="478.50" y="235.60" font-size="10.3" text-anchor="middle" textLength="11.97" lengthAdjust="spacingAndGlyphs">10</text>
<text x="541.11" y="235.60" font-size="10.3" text-anchor="middle" textLength="11.97" lengthAdjust="spacingAndGlyphs">40</text>
<text x="388.2" y="249.1" font-size="11.5" textLength="84.8">Pore width / nm</text>
<text transform="translate(294,182.2) rotate(-90)" font-size="11.5" textLength="119.6" text-anchor="start">dV/dW / (cm<tspan font-size="7.2" dy="-6.6">3</tspan><tspan dy="6.6"> g</tspan><tspan font-size="7.2" dy="-6.6">&#8722;1</tspan><tspan dy="6.6"> nm</tspan><tspan font-size="7.2" dy="-6.6">&#8722;1</tspan><tspan dy="6.6">)</tspan></text>
<text x="284.00" y="15.70" font-size="11" text-anchor="start" >(b)</text>
<g clip-path="url(#clipB)">
<polyline points="322.20,218.60 324.20,156.30 327.30,95.90 329.70,97.20 331.20,150.10 334.30,218.40 336.80,218.60 338.00,131.80 341.70,42.60 343.50,148.20 347.60,102.10 349.70,118.20 350.70,137.20 356.80,200.80 359.40,205.60 362.20,179.40 365.90,114.80 369.50,183.50 375.00,187.50 380.50,192.50 386.00,197.00 391.20,201.80" fill="none" stroke="#9a9a22" stroke-width="1.15" stroke-linejoin="round"/>
<polygon points="322.20,215.90 319.50,220.62 324.90,220.62" fill="#fff" stroke="#9a9a22" stroke-width="1.15" stroke-linejoin="miter"/>
<polygon points="324.20,153.60 321.50,158.33 326.90,158.33" fill="#fff" stroke="#9a9a22" stroke-width="1.15" stroke-linejoin="miter"/>
<polygon points="327.30,93.20 324.60,97.93 330.00,97.93" fill="#fff" stroke="#9a9a22" stroke-width="1.15" stroke-linejoin="miter"/>
<polygon points="329.70,94.50 327.00,99.23 332.40,99.23" fill="#fff" stroke="#9a9a22" stroke-width="1.15" stroke-linejoin="miter"/>
<polygon points="331.20,147.40 328.50,152.12 333.90,152.12" fill="#fff" stroke="#9a9a22" stroke-width="1.15" stroke-linejoin="miter"/>
<polygon points="334.30,215.70 331.60,220.43 337.00,220.43" fill="#fff" stroke="#9a9a22" stroke-width="1.15" stroke-linejoin="miter"/>
<polygon points="336.80,215.90 334.10,220.62 339.50,220.62" fill="#fff" stroke="#9a9a22" stroke-width="1.15" stroke-linejoin="miter"/>
<polygon points="338.00,129.10 335.30,133.83 340.70,133.83" fill="#fff" stroke="#9a9a22" stroke-width="1.15" stroke-linejoin="miter"/>
<polygon points="341.70,39.90 339.00,44.62 344.40,44.62" fill="#fff" stroke="#9a9a22" stroke-width="1.15" stroke-linejoin="miter"/>
<polygon points="343.50,145.50 340.80,150.22 346.20,150.22" fill="#fff" stroke="#9a9a22" stroke-width="1.15" stroke-linejoin="miter"/>
<polygon points="347.60,99.40 344.90,104.12 350.30,104.12" fill="#fff" stroke="#9a9a22" stroke-width="1.15" stroke-linejoin="miter"/>
<polygon points="349.70,115.50 347.00,120.23 352.40,120.23" fill="#fff" stroke="#9a9a22" stroke-width="1.15" stroke-linejoin="miter"/>
<polygon points="350.70,134.50 348.00,139.22 353.40,139.22" fill="#fff" stroke="#9a9a22" stroke-width="1.15" stroke-linejoin="miter"/>
<polygon points="356.80,198.10 354.10,202.83 359.50,202.83" fill="#fff" stroke="#9a9a22" stroke-width="1.15" stroke-linejoin="miter"/>
<polygon points="359.40,202.90 356.70,207.62 362.10,207.62" fill="#fff" stroke="#9a9a22" stroke-width="1.15" stroke-linejoin="miter"/>
<polygon points="362.20,176.70 359.50,181.43 364.90,181.43" fill="#fff" stroke="#9a9a22" stroke-width="1.15" stroke-linejoin="miter"/>
<polygon points="365.90,112.10 363.20,116.83 368.60,116.83" fill="#fff" stroke="#9a9a22" stroke-width="1.15" stroke-linejoin="miter"/>
<polygon points="369.50,180.80 366.80,185.53 372.20,185.53" fill="#fff" stroke="#9a9a22" stroke-width="1.15" stroke-linejoin="miter"/>
<polygon points="375.00,184.80 372.30,189.53 377.70,189.53" fill="#fff" stroke="#9a9a22" stroke-width="1.15" stroke-linejoin="miter"/>
<polygon points="380.50,189.80 377.80,194.53 383.20,194.53" fill="#fff" stroke="#9a9a22" stroke-width="1.15" stroke-linejoin="miter"/>
<polygon points="386.00,194.30 383.30,199.03 388.70,199.03" fill="#fff" stroke="#9a9a22" stroke-width="1.15" stroke-linejoin="miter"/>
<polygon points="391.20,199.10 388.50,203.83 393.90,203.83" fill="#fff" stroke="#9a9a22" stroke-width="1.15" stroke-linejoin="miter"/>
<polyline points="321.70,219.00 323.70,207.70 325.00,169.00 328.10,157.10 331.70,166.40 333.10,189.00 334.60,219.00 337.60,219.00 339.20,120.70 341.30,142.50 343.10,112.60 344.80,122.50 347.20,124.20 349.50,127.20 351.80,129.50 353.20,175.00 355.90,179.40 357.60,207.50 359.40,198.60 362.00,187.20 362.90,184.60 365.90,125.70 368.60,187.50 371.20,192.60 373.60,196.00 376.30,198.50 379.20,200.60 382.10,202.30 385.00,203.80" fill="none" stroke="#0b8a1c" stroke-width="1.35" stroke-linejoin="round"/>
<circle cx="321.70" cy="219.00" r="2.85" fill="#0b8a1c"/>
<circle cx="323.70" cy="207.70" r="2.85" fill="#0b8a1c"/>
<circle cx="325.00" cy="169.00" r="2.85" fill="#0b8a1c"/>
<circle cx="328.10" cy="157.10" r="2.85" fill="#0b8a1c"/>
<circle cx="331.70" cy="166.40" r="2.85" fill="#0b8a1c"/>
<circle cx="333.10" cy="189.00" r="2.85" fill="#0b8a1c"/>
<circle cx="334.60" cy="219.00" r="2.85" fill="#0b8a1c"/>
<circle cx="337.60" cy="219.00" r="2.85" fill="#0b8a1c"/>
<circle cx="339.20" cy="120.70" r="2.85" fill="#0b8a1c"/>
<circle cx="341.30" cy="142.50" r="2.85" fill="#0b8a1c"/>
<circle cx="343.10" cy="112.60" r="2.85" fill="#0b8a1c"/>
<circle cx="344.80" cy="122.50" r="2.85" fill="#0b8a1c"/>
<circle cx="347.20" cy="124.20" r="2.85" fill="#0b8a1c"/>
<circle cx="349.50" cy="127.20" r="2.85" fill="#0b8a1c"/>
<circle cx="351.80" cy="129.50" r="2.85" fill="#0b8a1c"/>
<circle cx="353.20" cy="175.00" r="2.85" fill="#0b8a1c"/>
<circle cx="355.90" cy="179.40" r="2.85" fill="#0b8a1c"/>
<circle cx="357.60" cy="207.50" r="2.85" fill="#0b8a1c"/>
<circle cx="359.40" cy="198.60" r="2.85" fill="#0b8a1c"/>
<circle cx="362.00" cy="187.20" r="2.85" fill="#0b8a1c"/>
<circle cx="362.90" cy="184.60" r="2.85" fill="#0b8a1c"/>
<circle cx="365.90" cy="125.70" r="2.85" fill="#0b8a1c"/>
<circle cx="368.60" cy="187.50" r="2.85" fill="#0b8a1c"/>
<circle cx="371.20" cy="192.60" r="2.85" fill="#0b8a1c"/>
<circle cx="373.60" cy="196.00" r="2.85" fill="#0b8a1c"/>
<circle cx="376.30" cy="198.50" r="2.85" fill="#0b8a1c"/>
<circle cx="379.20" cy="200.60" r="2.85" fill="#0b8a1c"/>
<circle cx="382.10" cy="202.30" r="2.85" fill="#0b8a1c"/>
<circle cx="385.00" cy="203.80" r="2.85" fill="#0b8a1c"/>
<polyline points="352.20,161.20 356.10,157.70 360.00,156.90 363.90,158.90 367.80,164.20 371.70,172.50 375.30,180.20 378.60,190.50 381.80,199.20 385.70,205.20 389.60,209.10 393.90,212.30 397.80,214.30 401.70,215.30 405.60,215.80 409.50,215.60 413.30,215.20 417.20,213.00 421.10,210.60 425.00,209.10 428.90,209.10 432.80,210.50 436.70,212.60 440.60,214.60 444.50,215.70 448.40,215.70 452.30,215.10 456.10,214.70 460.00,214.50 464.00,214.30 468.90,214.50 472.80,214.70 476.70,214.50 480.60,213.30 484.90,211.50 489.10,206.00 492.80,181.60 496.70,161.10 500.90,185.90 504.60,184.60 508.90,174.60 513.20,195.90 517.10,197.10 521.00,198.20 524.90,213.00 528.80,215.40 533.20,213.00" fill="none" stroke="#0a0af5" stroke-width="1.1" stroke-linejoin="round"/>
<circle cx="352.20" cy="161.20" r="2.25" fill="#fff" stroke="#0a0af5" stroke-width="1.3"/>
<circle cx="356.10" cy="157.70" r="2.25" fill="#fff" stroke="#0a0af5" stroke-width="1.3"/>
<circle cx="360.00" cy="156.90" r="2.25" fill="#fff" stroke="#0a0af5" stroke-width="1.3"/>
<circle cx="363.90" cy="158.90" r="2.25" fill="#fff" stroke="#0a0af5" stroke-width="1.3"/>
<circle cx="367.80" cy="164.20" r="2.25" fill="#fff" stroke="#0a0af5" stroke-width="1.3"/>
<circle cx="371.70" cy="172.50" r="2.25" fill="#fff" stroke="#0a0af5" stroke-width="1.3"/>
<circle cx="375.30" cy="180.20" r="2.25" fill="#fff" stroke="#0a0af5" stroke-width="1.3"/>
<circle cx="378.60" cy="190.50" r="2.25" fill="#fff" stroke="#0a0af5" stroke-width="1.3"/>
<circle cx="381.80" cy="199.20" r="2.25" fill="#fff" stroke="#0a0af5" stroke-width="1.3"/>
<circle cx="385.70" cy="205.20" r="2.25" fill="#fff" stroke="#0a0af5" stroke-width="1.3"/>
<circle cx="389.60" cy="209.10" r="2.25" fill="#fff" stroke="#0a0af5" stroke-width="1.3"/>
<circle cx="393.90" cy="212.30" r="2.25" fill="#fff" stroke="#0a0af5" stroke-width="1.3"/>
<circle cx="397.80" cy="214.30" r="2.25" fill="#fff" stroke="#0a0af5" stroke-width="1.3"/>
<circle cx="401.70" cy="215.30" r="2.25" fill="#fff" stroke="#0a0af5" stroke-width="1.3"/>
<circle cx="405.60" cy="215.80" r="2.25" fill="#fff" stroke="#0a0af5" stroke-width="1.3"/>
<circle cx="409.50" cy="215.60" r="2.25" fill="#fff" stroke="#0a0af5" stroke-width="1.3"/>
<circle cx="413.30" cy="215.20" r="2.25" fill="#fff" stroke="#0a0af5" stroke-width="1.3"/>
<circle cx="417.20" cy="213.00" r="2.25" fill="#fff" stroke="#0a0af5" stroke-width="1.3"/>
<circle cx="421.10" cy="210.60" r="2.25" fill="#fff" stroke="#0a0af5" stroke-width="1.3"/>
<circle cx="425.00" cy="209.10" r="2.25" fill="#fff" stroke="#0a0af5" stroke-width="1.3"/>
<circle cx="428.90" cy="209.10" r="2.25" fill="#fff" stroke="#0a0af5" stroke-width="1.3"/>
<circle cx="432.80" cy="210.50" r="2.25" fill="#fff" stroke="#0a0af5" stroke-width="1.3"/>
<circle cx="436.70" cy="212.60" r="2.25" fill="#fff" stroke="#0a0af5" stroke-width="1.3"/>
<circle cx="440.60" cy="214.60" r="2.25" fill="#fff" stroke="#0a0af5" stroke-width="1.3"/>
<circle cx="444.50" cy="215.70" r="2.25" fill="#fff" stroke="#0a0af5" stroke-width="1.3"/>
<circle cx="448.40" cy="215.70" r="2.25" fill="#fff" stroke="#0a0af5" stroke-width="1.3"/>
<circle cx="452.30" cy="215.10" r="2.25" fill="#fff" stroke="#0a0af5" stroke-width="1.3"/>
<circle cx="456.10" cy="214.70" r="2.25" fill="#fff" stroke="#0a0af5" stroke-width="1.3"/>
<circle cx="460.00" cy="214.50" r="2.25" fill="#fff" stroke="#0a0af5" stroke-width="1.3"/>
<circle cx="464.00" cy="214.30" r="2.25" fill="#fff" stroke="#0a0af5" stroke-width="1.3"/>
<circle cx="468.90" cy="214.50" r="2.25" fill="#fff" stroke="#0a0af5" stroke-width="1.3"/>
<circle cx="472.80" cy="214.70" r="2.25" fill="#fff" stroke="#0a0af5" stroke-width="1.3"/>
<circle cx="476.70" cy="214.50" r="2.25" fill="#fff" stroke="#0a0af5" stroke-width="1.3"/>
<circle cx="480.60" cy="213.30" r="2.25" fill="#fff" stroke="#0a0af5" stroke-width="1.3"/>
<circle cx="484.90" cy="211.50" r="2.25" fill="#fff" stroke="#0a0af5" stroke-width="1.3"/>
<circle cx="489.10" cy="206.00" r="2.25" fill="#fff" stroke="#0a0af5" stroke-width="1.3"/>
<circle cx="492.80" cy="181.60" r="2.25" fill="#fff" stroke="#0a0af5" stroke-width="1.3"/>
<circle cx="496.70" cy="161.10" r="2.25" fill="#fff" stroke="#0a0af5" stroke-width="1.3"/>
<circle cx="500.90" cy="185.90" r="2.25" fill="#fff" stroke="#0a0af5" stroke-width="1.3"/>
<circle cx="504.60" cy="184.60" r="2.25" fill="#fff" stroke="#0a0af5" stroke-width="1.3"/>
<circle cx="508.90" cy="174.60" r="2.25" fill="#fff" stroke="#0a0af5" stroke-width="1.3"/>
<circle cx="513.20" cy="195.90" r="2.25" fill="#fff" stroke="#0a0af5" stroke-width="1.3"/>
<circle cx="517.10" cy="197.10" r="2.25" fill="#fff" stroke="#0a0af5" stroke-width="1.3"/>
<circle cx="521.00" cy="198.20" r="2.25" fill="#fff" stroke="#0a0af5" stroke-width="1.3"/>
<circle cx="524.90" cy="213.00" r="2.25" fill="#fff" stroke="#0a0af5" stroke-width="1.3"/>
<circle cx="528.80" cy="215.40" r="2.25" fill="#fff" stroke="#0a0af5" stroke-width="1.3"/>
<circle cx="533.20" cy="213.00" r="2.25" fill="#fff" stroke="#0a0af5" stroke-width="1.3"/>
<polyline points="352.60,167.80 356.10,163.90 359.70,162.30 363.60,165.10 367.50,170.10 371.20,177.10 374.80,184.10 378.70,190.80 382.60,195.70 386.50,200.30 390.40,204.50 393.90,207.20 397.80,210.70 401.70,213.00 405.60,215.40 409.50,217.40 413.30,217.50 417.20,215.00 421.10,212.70 425.00,210.70 428.90,210.70 432.80,212.20 436.70,214.30 440.60,216.10 444.50,217.50 448.40,217.40 452.30,216.60 456.10,216.10 460.00,215.80 464.00,215.60 468.90,215.80 472.80,216.10 476.70,216.10 480.60,214.30 484.50,209.90 488.30,200.30 492.40,164.50 496.70,147.40 500.90,181.00 504.70,195.60 509.00,195.90 512.90,207.60 516.80,208.30 520.70,207.60 524.90,215.40 528.80,216.90 532.70,215.40" fill="none" stroke="#111" stroke-width="1.0" stroke-linejoin="round"/>
<circle cx="352.60" cy="167.80" r="2.65" fill="#111"/>
<circle cx="352.10" cy="167.10" r="0.75" fill="#e8e8e8"/>
<circle cx="356.10" cy="163.90" r="2.65" fill="#111"/>
<circle cx="355.60" cy="163.20" r="0.75" fill="#e8e8e8"/>
<circle cx="359.70" cy="162.30" r="2.65" fill="#111"/>
<circle cx="359.20" cy="161.60" r="0.75" fill="#e8e8e8"/>
<circle cx="363.60" cy="165.10" r="2.65" fill="#111"/>
<circle cx="363.10" cy="164.40" r="0.75" fill="#e8e8e8"/>
<circle cx="367.50" cy="170.10" r="2.65" fill="#111"/>
<circle cx="367.00" cy="169.40" r="0.75" fill="#e8e8e8"/>
<circle cx="371.20" cy="177.10" r="2.65" fill="#111"/>
<circle cx="370.70" cy="176.40" r="0.75" fill="#e8e8e8"/>
<circle cx="374.80" cy="184.10" r="2.65" fill="#111"/>
<circle cx="374.30" cy="183.40" r="0.75" fill="#e8e8e8"/>
<circle cx="378.70" cy="190.80" r="2.65" fill="#111"/>
<circle cx="378.20" cy="190.10" r="0.75" fill="#e8e8e8"/>
<circle cx="382.60" cy="195.70" r="2.65" fill="#111"/>
<circle cx="382.10" cy="195.00" r="0.75" fill="#e8e8e8"/>
<circle cx="386.50" cy="200.30" r="2.65" fill="#111"/>
<circle cx="386.00" cy="199.60" r="0.75" fill="#e8e8e8"/>
<circle cx="390.40" cy="204.50" r="2.65" fill="#111"/>
<circle cx="389.90" cy="203.80" r="0.75" fill="#e8e8e8"/>
<circle cx="393.90" cy="207.20" r="2.65" fill="#111"/>
<circle cx="393.40" cy="206.50" r="0.75" fill="#e8e8e8"/>
<circle cx="397.80" cy="210.70" r="2.65" fill="#111"/>
<circle cx="397.30" cy="210.00" r="0.75" fill="#e8e8e8"/>
<circle cx="401.70" cy="213.00" r="2.65" fill="#111"/>
<circle cx="401.20" cy="212.30" r="0.75" fill="#e8e8e8"/>
<circle cx="405.60" cy="215.40" r="2.65" fill="#111"/>
<circle cx="405.10" cy="214.70" r="0.75" fill="#e8e8e8"/>
<circle cx="409.50" cy="217.40" r="2.65" fill="#111"/>
<circle cx="409.00" cy="216.70" r="0.75" fill="#e8e8e8"/>
<circle cx="413.30" cy="217.50" r="2.65" fill="#111"/>
<circle cx="412.80" cy="216.80" r="0.75" fill="#e8e8e8"/>
<circle cx="417.20" cy="215.00" r="2.65" fill="#111"/>
<circle cx="416.70" cy="214.30" r="0.75" fill="#e8e8e8"/>
<circle cx="421.10" cy="212.70" r="2.65" fill="#111"/>
<circle cx="420.60" cy="212.00" r="0.75" fill="#e8e8e8"/>
<circle cx="425.00" cy="210.70" r="2.65" fill="#111"/>
<circle cx="424.50" cy="210.00" r="0.75" fill="#e8e8e8"/>
<circle cx="428.90" cy="210.70" r="2.65" fill="#111"/>
<circle cx="428.40" cy="210.00" r="0.75" fill="#e8e8e8"/>
<circle cx="432.80" cy="212.20" r="2.65" fill="#111"/>
<circle cx="432.30" cy="211.50" r="0.75" fill="#e8e8e8"/>
<circle cx="436.70" cy="214.30" r="2.65" fill="#111"/>
<circle cx="436.20" cy="213.60" r="0.75" fill="#e8e8e8"/>
<circle cx="440.60" cy="216.10" r="2.65" fill="#111"/>
<circle cx="440.10" cy="215.40" r="0.75" fill="#e8e8e8"/>
<circle cx="444.50" cy="217.50" r="2.65" fill="#111"/>
<circle cx="444.00" cy="216.80" r="0.75" fill="#e8e8e8"/>
<circle cx="448.40" cy="217.40" r="2.65" fill="#111"/>
<circle cx="447.90" cy="216.70" r="0.75" fill="#e8e8e8"/>
<circle cx="452.30" cy="216.60" r="2.65" fill="#111"/>
<circle cx="451.80" cy="215.90" r="0.75" fill="#e8e8e8"/>
<circle cx="456.10" cy="216.10" r="2.65" fill="#111"/>
<circle cx="455.60" cy="215.40" r="0.75" fill="#e8e8e8"/>
<circle cx="460.00" cy="215.80" r="2.65" fill="#111"/>
<circle cx="459.50" cy="215.10" r="0.75" fill="#e8e8e8"/>
<circle cx="464.00" cy="215.60" r="2.65" fill="#111"/>
<circle cx="463.50" cy="214.90" r="0.75" fill="#e8e8e8"/>
<circle cx="468.90" cy="215.80" r="2.65" fill="#111"/>
<circle cx="468.40" cy="215.10" r="0.75" fill="#e8e8e8"/>
<circle cx="472.80" cy="216.10" r="2.65" fill="#111"/>
<circle cx="472.30" cy="215.40" r="0.75" fill="#e8e8e8"/>
<circle cx="476.70" cy="216.10" r="2.65" fill="#111"/>
<circle cx="476.20" cy="215.40" r="0.75" fill="#e8e8e8"/>
<circle cx="480.60" cy="214.30" r="2.65" fill="#111"/>
<circle cx="480.10" cy="213.60" r="0.75" fill="#e8e8e8"/>
<circle cx="484.50" cy="209.90" r="2.65" fill="#111"/>
<circle cx="484.00" cy="209.20" r="0.75" fill="#e8e8e8"/>
<circle cx="488.30" cy="200.30" r="2.65" fill="#111"/>
<circle cx="487.80" cy="199.60" r="0.75" fill="#e8e8e8"/>
<circle cx="492.40" cy="164.50" r="2.65" fill="#111"/>
<circle cx="491.90" cy="163.80" r="0.75" fill="#e8e8e8"/>
<circle cx="496.70" cy="147.40" r="2.65" fill="#111"/>
<circle cx="496.20" cy="146.70" r="0.75" fill="#e8e8e8"/>
<circle cx="500.90" cy="181.00" r="2.65" fill="#111"/>
<circle cx="500.40" cy="180.30" r="0.75" fill="#e8e8e8"/>
<circle cx="504.70" cy="195.60" r="2.65" fill="#111"/>
<circle cx="504.20" cy="194.90" r="0.75" fill="#e8e8e8"/>
<circle cx="509.00" cy="195.90" r="2.65" fill="#111"/>
<circle cx="508.50" cy="195.20" r="0.75" fill="#e8e8e8"/>
<circle cx="512.90" cy="207.60" r="2.65" fill="#111"/>
<circle cx="512.40" cy="206.90" r="0.75" fill="#e8e8e8"/>
<circle cx="516.80" cy="208.30" r="2.65" fill="#111"/>
<circle cx="516.30" cy="207.60" r="0.75" fill="#e8e8e8"/>
<circle cx="520.70" cy="207.60" r="2.65" fill="#111"/>
<circle cx="520.20" cy="206.90" r="0.75" fill="#e8e8e8"/>
<circle cx="524.90" cy="215.40" r="2.65" fill="#111"/>
<circle cx="524.40" cy="214.70" r="0.75" fill="#e8e8e8"/>
<circle cx="528.80" cy="216.90" r="2.65" fill="#111"/>
<circle cx="528.30" cy="216.20" r="0.75" fill="#e8e8e8"/>
<circle cx="532.70" cy="215.40" r="2.65" fill="#111"/>
<circle cx="532.20" cy="214.70" r="0.75" fill="#e8e8e8"/>
</g>
<text x="329.8" y="33.3" font-size="11.2">CO<tspan font-size="6.4" dx="0.6" dy="4.3">2</tspan><tspan dy="-4.3"> NLDFT</tspan></text>
<line x1="363.5" y1="44.8" x2="383.6" y2="44.8" stroke="#0b8a1c" stroke-width="1.1"/>
<circle cx="374.00" cy="44.80" r="2.8" fill="#0b8a1c"/>
<line x1="363.5" y1="58.9" x2="383.6" y2="58.9" stroke="#9a9a22" stroke-width="1.1"/>
<polygon points="374.00,55.90 371.30,60.62 376.70,60.62" fill="#fff" stroke="#9a9a22" stroke-width="1.2" stroke-linejoin="miter"/>
<text x="386.80" y="48.60" font-size="10.4" text-anchor="start" >HPC6</text>
<text x="386.80" y="62.70" font-size="10.4" text-anchor="start" >HPC8</text>
<text x="460" y="96.8" font-size="11.2">N<tspan font-size="6.4" dx="1.2" dy="4.8">2</tspan><tspan dy="-4.8"> QSDFT</tspan></text>
<line x1="462.3" y1="110.5" x2="482.4" y2="110.5" stroke="#111" stroke-width="1"/>
<circle cx="472.60" cy="110.50" r="2.8" fill="#111"/>
<circle cx="472.10" cy="109.80" r="0.75" fill="#e8e8e8"/>
<line x1="462.3" y1="123.2" x2="482.4" y2="123.2" stroke="#0a0af5" stroke-width="1"/>
<circle cx="472.60" cy="123.20" r="2.2" fill="#fff" stroke="#0a0af5" stroke-width="1.3"/>
<text x="485.30" y="114.30" font-size="10.4" text-anchor="start" >HPC6</text>
<text x="485.30" y="127.00" font-size="10.4" text-anchor="start" >HPC8</text>
</svg>
</body></html>
